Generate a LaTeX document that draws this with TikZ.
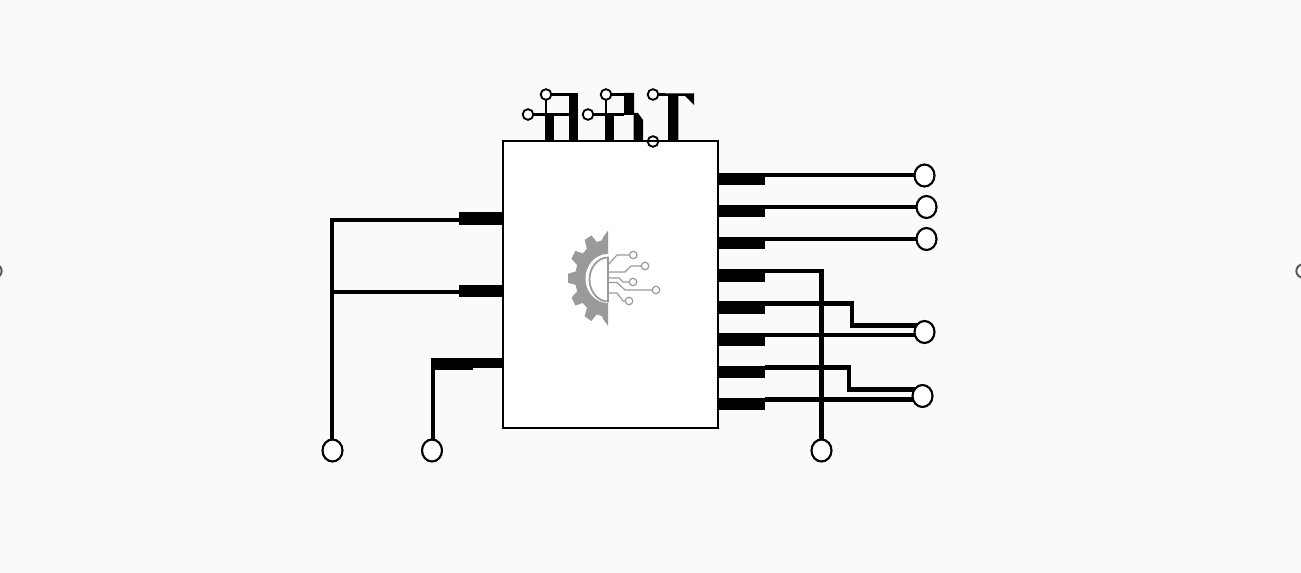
\documentclass[tikz,border=0pt]{standalone}
\usetikzlibrary{shapes.geometric}
\pgfdeclarelayer{paper}
\pgfdeclarelayer{wires}
\pgfsetlayers{paper,wires,main}
\definecolor{paperc}{HTML}{FAFAFA}
\definecolor{logoc}{HTML}{9A9A9A}
\tikzset{
  wire/.style={draw=black,line width=3.3pt,line join=miter},
  padbox/.style={fill=black,draw=none,rectangle,inner sep=0pt,outer sep=0pt},
  term/.style={ellipse,draw=black,fill=white,line width=1.6pt,inner sep=0pt,outer sep=0pt,minimum width=15pt,minimum height=16.5pt},
  smallterm/.style={circle,draw=black,fill=white,line width=1.4pt,inner sep=0pt,outer sep=0pt,minimum size=8pt},
  edgeterm/.style={ellipse,draw=black!65,fill=white,line width=1.5pt,inner sep=0pt,outer sep=0pt,minimum width=10pt,minimum height=10pt},
  thinwire/.style={draw=black,line width=1.6pt},
  logoterm/.style={circle,draw=logoc,fill=white,line width=0.9pt,inner sep=0pt,outer sep=0pt,minimum size=5.6pt},
  logowire/.style={draw=logoc,line width=0.9pt,line join=round},
}
% name, x1, y1, x2, y2 in reference pixels
\newcommand{\padat}[5]{%
  \pgfmathsetmacro{\pw}{(#4-#2)*0.75}\pgfmathsetmacro{\ph}{(#5-#3)*0.75}%
  \node[padbox,minimum width=\pw pt,minimum height=\ph pt] (#1) at ({(#2+#4)/2},{(#3+#5)/2}) {};}
\begin{document}
\begin{tikzpicture}[x=0.75pt,y=-0.75pt]
\useasboundingbox (0,0) rectangle (1301,573);
\begin{pgfonlayer}{paper}
  \fill[paperc] (0,0) rectangle (1301,573);
\end{pgfonlayer}

% chip body
\node[rectangle,draw=black,fill=white,line width=1.1pt,inner sep=0pt,outer sep=0pt,minimum width=161.25pt,minimum height=215.25pt] (chip) at (610.5,284.5) {};

% pads right
\padat{r1}{718}{173}{765}{185.5}
\padat{r2}{718}{205}{765}{217.5}
\padat{r3}{718}{237}{765}{249.5}
\padat{r4}{718}{269.3}{765}{281.8}
\padat{r5}{718}{301.5}{765}{314}
\padat{r6}{718}{333.2}{765}{345.7}
\padat{r7}{718}{365.5}{765}{377.8}
\padat{r8}{718}{397.5}{765}{410}
% pads left
\padat{l1}{459}{212.5}{503}{225}
\padat{l2}{459}{285}{503}{297.5}
\padat{l3}{431}{357.5}{503}{368}
\padat{l3b}{431}{360}{473}{370}

% terminals
\node[term] (t1) at (924.5,175.5) {};
\node[term] (t2) at (926.5,207) {};
\node[term] (t3) at (926.5,239) {};
\node[term] (t4) at (924.5,332) {};
\node[term] (t5) at (922.5,396) {};
\node[term] (b1) at (332.5,450.5) {};
\node[term] (b2) at (432,450.5) {};
\node[term] (b3) at (821.5,450.5) {};
\node[edgeterm] (e1) at (-5,271) {};
\node[edgeterm] (e2) at (1303,271) {};

\foreach \n in {1,...,8}{\path (r\n.north east) ++(0,2) coordinate (a\n);}
\coordinate (k5) at (852,325.5);
\coordinate (k7) at (849,389.5);
\coordinate (v1) at (332,219.8);
\coordinate (v2) at (332,291.8);
\coordinate (v3) at (433,365);
\begin{pgfonlayer}{wires}
  \draw[wire] (a1) -- (a1 -| t1.center);
  \draw[wire] (a2) -- (a2 -| t2.center);
  \draw[wire] (a3) -- (a3 -| t3.center);
  \draw[wire] (a4) -| (b3.center);
  \draw[wire] (a5) -| (k5) -- (k5 -| t4.center);
  \draw[wire] (a6) -- (a6 -| t4.center);
  \draw[wire] (a7) -| (k7) -- (k7 -| t5.center);
  \draw[wire] (a8) -- (a8 -| t5.center);
  \draw[wire] (l1.west |- v1) -- (v1) -- (v1 |- b1.center);
  \draw[wire] (l2.west |- v2) -- (v2);
  \draw[wire] (v3) -- (v3 |- b2.center);
\end{pgfonlayer}

% logo
\begin{scope}
  \clip (540,225) rectangle (608,330);
  \begin{scope}[shift={(608,278.2)},x=0.64pt,y=-0.75pt]
    \fill[logoc] (90:47.5) -- (97:42) -- (101:38.5)
      \foreach \a in {120,150,180,210,240}{
        -- (\a-10:38.5) -- (\a-5.5:47) -- (\a+5.5:47) -- (\a+10:38.5)
      } -- (259:38.5) -- (263:42) -- (270:47.5) -- cycle;
  \end{scope}
  \fill[white] (608,278.5) ellipse [x radius=22.5,y radius=24.5];
\end{scope}
\draw[logoc,line width=1.3pt,fill=white] (608,257.5) arc [start angle=270,end angle=90,x radius=18.5,y radius=22] -- cycle;
\node[logoterm] (q1) at (633.3,255) {};
\node[logoterm] (q2) at (645,266) {};
\node[logoterm] (q3) at (633,282) {};
\node[logoterm] (q4) at (656,290) {};
\node[logoterm] (q5) at (629,301) {};
\draw[logowire] (608,265) -- (617,255) -- (q1);
\draw[logowire] (608,272) -- (625,272) -- (631,266) -- (q2);
\draw[logowire] (608,278) -- (619,278) -- (623,282) -- (q3);
\draw[logowire] (608,282.5) -- (617,282.5) -- (625,290) -- (q4);
\draw[logowire] (608,293) -- (617,293) -- (623,301) -- (q5);

% top glyph shapes
\fill[black] (545,113) rectangle (554,141);
\fill[black] (569,93) rectangle (578,141);
\fill[black] (605,113) rectangle (614,141);
\fill[black] (624,93) -- (634,93) -- (634,113) -- (638,113) -- (643,120) -- (643,141) -- (633.5,141) -- (633.5,115) -- (624,115) -- cycle;
\fill[black] (664,93.3) -- (694,93.3) -- (694,105) -- (685,96) -- (678.3,96) -- (678.3,141) -- (668,141) -- (668,96) -- (664,96) -- cycle;
\node[smallterm] (g1) at (546,94.5) {};
\node[smallterm] (g2) at (528,114.5) {};
\node[smallterm] (g3) at (606,94.5) {};
\node[smallterm] (g4) at (588,114.5) {};
\node[smallterm] (g5) at (653,94.5) {};
\node[smallterm,fill=none] (g6) at (653,141.5) {};
\begin{pgfonlayer}{wires}
\draw[thinwire] (g1.center) -- (569,94.5);
\draw[thinwire] (g1.center) -- (546,114.5);
\draw[thinwire] (g2.center) -- (569,114.5);
\draw[thinwire] (g3.center) -- (624,94.5);
\draw[thinwire] (g3.center) -- (606,114.5);
\draw[thinwire] (g4.center) -- (624,114.5);
\draw[thinwire] (g5.center) -- (665,94.5);
\end{pgfonlayer}
\end{tikzpicture}
\end{document}
